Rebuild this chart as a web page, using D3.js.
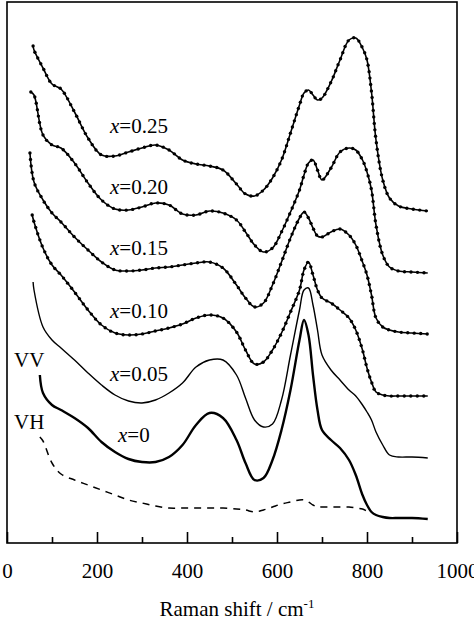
<!DOCTYPE html>
<html><head><meta charset="utf-8">
<script src="https://cdn.jsdelivr.net/npm/d3@7"></script>
<style>body{margin:0;background:#fff}svg{display:block}</style>
</head><body><svg id="c" width="474" height="622"></svg>
<script>
const shifts = [60,80,100,120,150,180,210,240,270,300,330,360,390,420,450,480,510,530,550,570,590,610,630,650,660,670,680,690,700,720,740,760,775,790,800,810,820,835,850,870,900,935];
const xTicks = [0,200,400,600,800,1000];
const s025 = [493,475,459,454,431,405,388,387,391,395,398,393,383,379,377,373,359,349,347,353,365,383,410,438,450,453,448,443,445,461,483,503,505,495,483,451,403,363,345,337,334,332];
const s020 = [448,408,398,395,380,360,343,334,333,336,340,338,329,328,332,330,323,311,298,291,295,311,331,353,368,380,383,373,363,375,391,395,393,383,371,353,318,288,276,272,271,270];
const s015 = [361,343,330,321,306,293,281,273,272,273,275,276,278,280,281,275,258,245,236,240,258,281,305,325,331,325,315,307,306,311,314,308,298,281,268,248,225,216,213,211,210,209];
const s010 = [321,295,278,268,251,233,218,210,208,209,212,215,219,225,228,225,211,193,179,181,193,210,231,253,273,281,268,253,245,240,233,225,213,193,175,161,151,148,147,147,147,147];
const s005 = [253,216,203,195,183,170,158,148,142,140,143,150,160,176,183,183,168,145,123,116,119,143,188,233,253,255,238,213,188,173,163,153,147,138,131,123,111,98,88,86,86,85];
const s000 = [null,150,138,133,125,115,101,91,84,81,81,86,98,118,130,125,103,80,63,65,83,113,153,203,223,208,168,133,113,103,95,83,68,48,38,31,28,26,25,25,25,24];
const sVH = [null,102,80,69,63,58,53,48,43,40,37,35,35,35,35,35,34,33,31,33,36,39,41,43,43,41,38,36,36,36,36,36,35,34,32,30,null,null,null,null,null,null];
const starts = {s025:[58,497],s020:[53,451],s015:[51,390],s010:[56,328],s005:[58,261],s000:[73,168],sVH:[73,106]};
const labels = ["0.25","0.20","0.15","0.10","0.05","0"];

const FONT = "Liberation Serif";
const svg = d3.select("#c");
const L=7,R=457,T=2,B=543;
const x = d3.scaleLinear().domain([0,1000]).range([L,R]);
const y = d3.scaleLinear().domain([0,541]).range([B,T]);

function pts(arr,key){
  const p=[starts[key]];
  arr.forEach((v,i)=>{ if(v!=null) p.push([shifts[i],v]); });
  return p;
}
const line = d3.line().x(d=>x(d[0])).y(d=>y(d[1])).curve(d3.curveCatmullRom.alpha(0.5));

const series = [
  {k:"s025",d:s025,w:1.6,dots:true},
  {k:"s020",d:s020,w:1.6,dots:true},
  {k:"s015",d:s015,w:1.6,dots:true},
  {k:"s010",d:s010,w:1.6,dots:true},
  {k:"s005",d:s005,w:1.4,dots:false},
  {k:"s000",d:s000,w:2.4,dots:false},
  {k:"sVH",d:sVH,w:1.5,dots:false,dash:"7,6"}
];
series.forEach(s=>{
  const path = svg.append("path").attr("d",line(pts(s.d,s.k))).attr("fill","none")
    .attr("stroke","#000").attr("stroke-width",s.w).attr("stroke-dasharray",s.dash||null);
  if(s.dots){
    const n=path.node(), len=n.getTotalLength();
    for(let l=0;l<=len;l+=6.5){
      const p=n.getPointAtLength(l);
      svg.append("circle").attr("cx",p.x).attr("cy",p.y).attr("r",1.7).attr("fill","#000");
    }
  }
});

svg.append("rect").attr("x",L).attr("y",T).attr("width",R-L).attr("height",B-T)
  .attr("fill","none").attr("stroke","#000").attr("stroke-width",1.6);
const axis = d3.axisBottom(x).tickValues(xTicks).tickSize(-11).tickPadding(20).tickFormat(d3.format("d"));
const ga = svg.append("g").attr("transform",`translate(0,${B})`).call(axis);
ga.select(".domain").remove();
ga.selectAll(".tick line").attr("stroke-width",1.6);
ga.selectAll("text").attr("font-size",21).attr("fill","#000").style("font-family",FONT);
svg.append("g").attr("transform",`translate(0,${B})`)
  .call(d3.axisBottom(x).tickValues([100,300,500,700,900]).tickSize(-6).tickFormat(""))
  .call(g=>{g.select(".domain").remove();g.selectAll("line").attr("stroke-width",1.6);});

svg.append("text").attr("x",237).attr("y",616).attr("text-anchor","middle").attr("font-size",21).style("font-family",FONT)
  .html('Raman shift / cm<tspan dy="-8" font-size="13">-1</tspan>');

const lab=[[110,133],[110,194],[110,255],[110,318],[110,381],[118,442]];
labels.forEach((t,i)=>{
  const tx=svg.append("text").attr("x",lab[i][0]).attr("y",lab[i][1]).attr("font-size",21).style("font-family",FONT);
  tx.append("tspan").attr("font-style","italic").text("x");
  tx.append("tspan").text("="+t);
});
svg.append("text").attr("x",14).attr("y",367).attr("font-size",21).style("font-family",FONT).text("VV");
svg.append("text").attr("x",14).attr("y",429).attr("font-size",21).style("font-family",FONT).text("VH");
</script></body></html>
